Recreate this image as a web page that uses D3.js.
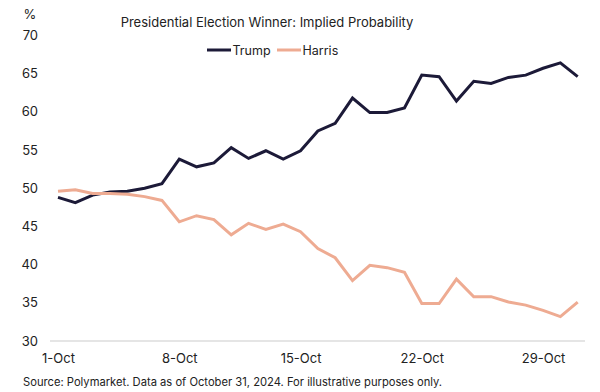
<!DOCTYPE html>
<html>
<head>
<meta charset="utf-8">
<script src="https://cdn.jsdelivr.net/npm/d3@7"></script>
<style>
  body { margin: 0; background: #fff; }
  svg { display: block; font-family: Inter, "Noto Sans", sans-serif; }
</style>
</head>
<body>
<div id="chart"></div>
<script>
// Days of October 2024
const days = [1, 2, 3, 4, 5, 6, 7, 8, 9, 10, 11, 12, 13, 14, 15, 16,
    17, 18, 19, 20, 21, 22, 23, 24, 25, 26, 27, 28, 29, 30, 31];

const trump = [48.8, 48.1, 49.1, 49.5, 49.6, 50.0, 50.6, 53.8, 52.8, 53.3, 55.3, 53.9, 54.9, 53.8, 54.9,
    57.5, 58.5, 61.8, 59.9, 59.9, 60.5, 64.8, 64.6, 61.4, 64.0, 63.7, 64.5, 64.8, 65.7, 66.4, 64.6];

const harris = [49.6, 49.8, 49.3, 49.3, 49.2, 48.9, 48.4, 45.6, 46.4, 45.9, 43.9, 45.4, 44.6, 45.3, 44.3,
    42.1, 40.9, 37.9, 39.9, 39.6, 39.0, 34.9, 34.9, 38.1, 35.8, 35.8, 35.1, 34.7, 34.0, 33.2, 35.1];

const xTickDays = [1, 8, 15, 22, 29];
const yTicks = [30, 35, 40, 45, 50, 55, 60, 65, 70];

const width = 600, height = 392;
const trumpColor = "#1c1a38";
const harrisColor = "#eeab92";

const svg = d3.select("#chart").append("svg")
    .attr("width", width)
    .attr("height", height);

const date = d => new Date(2024, 9, d);

const x = d3.scaleTime()
    .domain([date(1), date(31)])
    .range([58, 577.7]);

const y = d3.scaleLinear()
    .domain([30, 70])
    .range([341, 35.4]);

// title
svg.append("text")
    .attr("x", 267)
    .attr("y", 27)
    .attr("text-anchor", "middle")
    .attr("font-size", 13)
    .attr("fill", "#222")
    .text("Presidential Election Winner: Implied Probability");

// unit label
svg.append("text")
    .attr("x", 30)
    .attr("y", 19)
    .attr("text-anchor", "middle")
    .attr("font-size", 13)
    .attr("fill", "#222")
    .text("%");

// legend
const legend = [
    { name: "Trump", color: trumpColor, x: 207 },
    { name: "Harris", color: harrisColor, x: 277 }
];
const lg = svg.append("g").selectAll("g")
    .data(legend)
    .enter().append("g")
    .attr("transform", d => `translate(${d.x},50)`);
lg.append("line")
    .attr("x1", 0).attr("x2", 24)
    .attr("stroke", d => d.color)
    .attr("stroke-width", 3);
lg.append("text")
    .attr("x", 25.5)
    .attr("y", 4.5)
    .attr("font-size", 12.5)
    .attr("fill", "#222")
    .text(d => d.name);

// y axis
svg.append("g")
    .attr("transform", "translate(38,0)")
    .call(d3.axisLeft(y).tickValues(yTicks).tickSize(0).tickPadding(0))
    .call(g => g.select(".domain").remove())
    .call(g => g.selectAll("text")
        .attr("font-size", 13)
        .attr("font-family", "Inter, 'Noto Sans', sans-serif")
        .attr("fill", "#222"));

// baseline
svg.append("line")
    .attr("x1", 50).attr("x2", 585)
    .attr("y1", y(30)).attr("y2", y(30))
    .attr("stroke", "#dcdcdc")
    .attr("stroke-width", 1.5);

// x axis
svg.append("g")
    .attr("transform", `translate(0,${y(30)})`)
    .call(d3.axisBottom(x)
        .tickValues(xTickDays.map(date))
        .tickFormat(d3.timeFormat("%-d-%b"))
        .tickSize(0).tickPadding(13))
    .call(g => g.select(".domain").remove())
    .call(g => g.selectAll("text")
        .attr("font-size", 13)
        .attr("font-family", "Inter, 'Noto Sans', sans-serif")
        .attr("fill", "#222"));

// lines
const line = d3.line()
    .x((d, i) => x(date(days[i])))
    .y(d => y(d));

svg.append("path")
    .datum(trump)
    .attr("fill", "none")
    .attr("stroke", trumpColor)
    .attr("stroke-width", 3)
    .attr("d", line);

svg.append("path")
    .datum(harris)
    .attr("fill", "none")
    .attr("stroke", harrisColor)
    .attr("stroke-width", 3)
    .attr("d", line);

// source note
svg.append("text")
    .attr("x", 23)
    .attr("y", 386)
    .attr("font-size", 11.2)
    .attr("fill", "#222")
    .text("Source: Polymarket. Data as of October 31, 2024. For illustrative purposes only.");
</script>
</body>
</html>
